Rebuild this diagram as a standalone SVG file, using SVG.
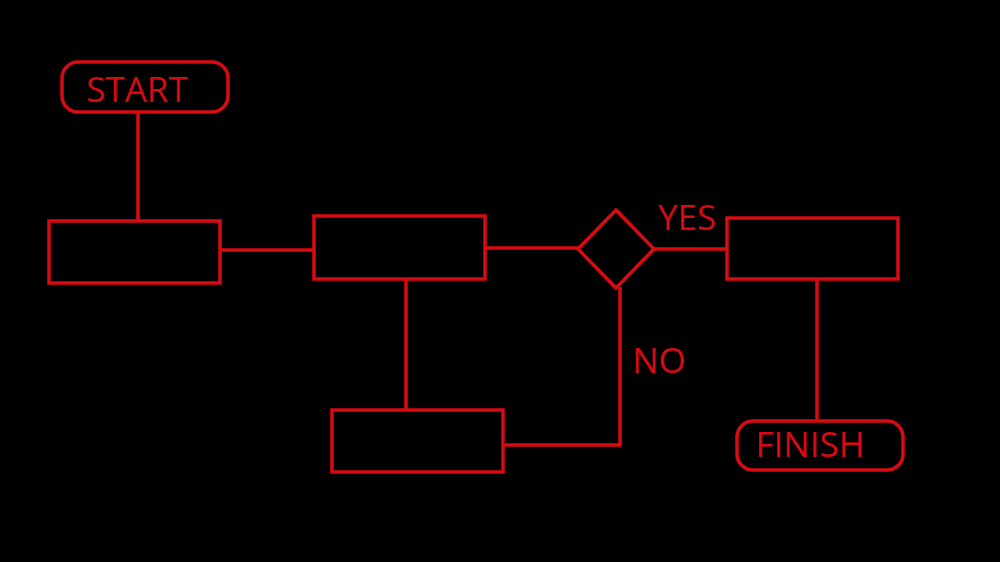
<svg xmlns="http://www.w3.org/2000/svg" width="1000" height="562" viewBox="0 0 1000 562">
<style>
.s{fill:none;stroke:#d80a12;stroke-width:3.5}
.t{fill:#d80a12;font-family:"Open Sans","Noto Sans",sans-serif;font-size:35px}
</style>
<rect width="1000" height="562" fill="#000"/>
<g id="connectors" class="s">
<line x1="138" y1="112" x2="138" y2="221"/>
<line x1="220" y1="250" x2="314" y2="250"/>
<line x1="485" y1="248" x2="578" y2="248"/>
<line x1="654" y1="249" x2="727" y2="249"/>
<line x1="817" y1="279" x2="817" y2="420"/>
<line x1="406" y1="279" x2="406" y2="410"/>
<polyline points="503,445 620,445 620,287"/>
</g>
<g id="start"><rect class="s" x="62" y="62" width="166" height="50" rx="16"/><text class="t" x="137" y="102" text-anchor="middle">START</text></g>
<g id="box1"><rect class="s" x="49" y="221" width="171" height="62"/></g>
<g id="box2"><rect class="s" x="314" y="216" width="171" height="63"/></g>
<g id="decision"><polygon class="s" points="616,210 654,249 616,288 578,249"/></g>
<g id="yes"><text class="t" x="687" y="230" text-anchor="middle">YES</text></g>
<g id="no"><text class="t" x="659" y="373" text-anchor="middle">NO</text></g>
<g id="box3"><rect class="s" x="727" y="218" width="171" height="61"/></g>
<g id="box4"><rect class="s" x="332" y="410" width="171" height="62"/></g>
<g id="finish"><rect class="s" x="737" y="421" width="166" height="49" rx="16"/><text class="t" x="810" y="457" text-anchor="middle">FINISH</text></g>
</svg>
